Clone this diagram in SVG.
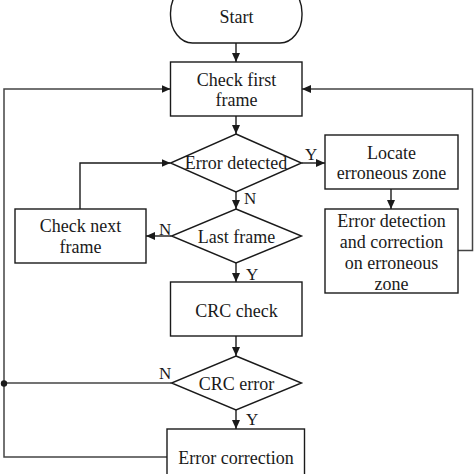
<svg xmlns="http://www.w3.org/2000/svg" width="474" height="474" viewBox="0 0 474 474">
<style>
.box{fill:#fff;stroke:#1a1a1a;stroke-width:1.4}
.t{font-family:"Liberation Serif","Times New Roman",serif;font-size:18px;fill:#1a1a1a;text-anchor:middle}
.lbl{font-family:"Liberation Serif","Times New Roman",serif;font-size:17px;fill:#1a1a1a}
.c{fill:none;stroke:#1a1a1a;stroke-width:1.4}
.loop{fill:none;stroke:#444;stroke-width:1.5}
</style>
<defs>
<marker id="ah" markerUnits="userSpaceOnUse" markerWidth="10" markerHeight="10" refX="9" refY="4" orient="auto">
<path d="M0,0 L9,4 L0,8 Z" fill="#1a1a1a"/>
</marker>
</defs>
<rect width="474" height="474" fill="#fff"/>
<g id="connectors">
<path class="c" d="M236,43 V62" marker-end="url(#ah)"/>
<path class="c" d="M236,116 V134" marker-end="url(#ah)"/>
<path class="c" d="M301.5,163 H325" marker-end="url(#ah)"/>
<path class="c" d="M391,189 V209" marker-end="url(#ah)"/>
<path class="loop" d="M458,250.5 H472.5 V89 H302" marker-end="url(#ah)"/>
<path class="c" d="M236,192 V209" marker-end="url(#ah)"/>
<path class="c" d="M171.5,236 H146" marker-end="url(#ah)"/>
<path class="c" d="M80,209 V163 H170.5" marker-end="url(#ah)"/>
<path class="c" d="M236,263 V282" marker-end="url(#ah)"/>
<path class="c" d="M236,336 V356" marker-end="url(#ah)"/>
<path class="c" d="M236,410 V429" marker-end="url(#ah)"/>
<path class="loop" d="M171.5,383 H4"/>
<path class="loop" d="M167,457 H4 V89 H170.5" marker-end="url(#ah)"/>
<circle cx="4" cy="383.5" r="3.2" fill="#1a1a1a"/>
<text class="lbl" x="305" y="160">Y</text>
<text class="lbl" x="244" y="204">N</text>
<text class="lbl" x="159" y="235">N</text>
<text class="lbl" x="246" y="280">Y</text>
<text class="lbl" x="159" y="379">N</text>
<text class="lbl" x="246" y="425">Y</text>
</g>
<g id="start">
<rect class="box" x="170.5" y="-15" width="131.5" height="58" rx="22" ry="28"/>
<text class="t" x="236.5" y="22.7">Start</text>
</g>
<g id="check-first">
<rect class="box" x="170.5" y="62" width="131.5" height="54"/>
<text class="t" x="236.5" y="86">Check first</text>
<text class="t" x="236.5" y="106">frame</text>
</g>
<g id="error-detected">
<polygon class="box" points="236,134 301.5,163 236,192 170.5,163"/>
<text class="t" x="236" y="169">Error detected</text>
</g>
<g id="locate">
<rect class="box" x="325" y="135" width="133" height="54"/>
<text class="t" x="391.5" y="159">Locate</text>
<text class="t" x="391.5" y="179">erroneous zone</text>
</g>
<g id="error-detection">
<rect class="box" x="325" y="209" width="133" height="84"/>
<text class="t" x="391.5" y="227">Error detection</text>
<text class="t" x="391.5" y="248">and correction</text>
<text class="t" x="391.5" y="269">on erroneous</text>
<text class="t" x="391.5" y="290">zone</text>
</g>
<g id="check-next">
<rect class="box" x="15" y="209" width="131" height="54"/>
<text class="t" x="80.5" y="232">Check next</text>
<text class="t" x="80.5" y="253">frame</text>
</g>
<g id="last-frame">
<polygon class="box" points="236,209 301.5,236 236,263 171.5,236"/>
<text class="t" x="236.5" y="242.5">Last frame</text>
</g>
<g id="crc-check">
<rect class="box" x="170.5" y="282" width="131.5" height="54"/>
<text class="t" x="236.5" y="317">CRC check</text>
</g>
<g id="crc-error">
<polygon class="box" points="236,356 301.5,383 236,410 171.5,383"/>
<text class="t" x="236.5" y="389.5">CRC error</text>
</g>
<g id="error-correction">
<rect class="box" x="167" y="429" width="137.5" height="60"/>
<text class="t" x="236" y="463.5">Error correction</text>
</g>
</svg>
